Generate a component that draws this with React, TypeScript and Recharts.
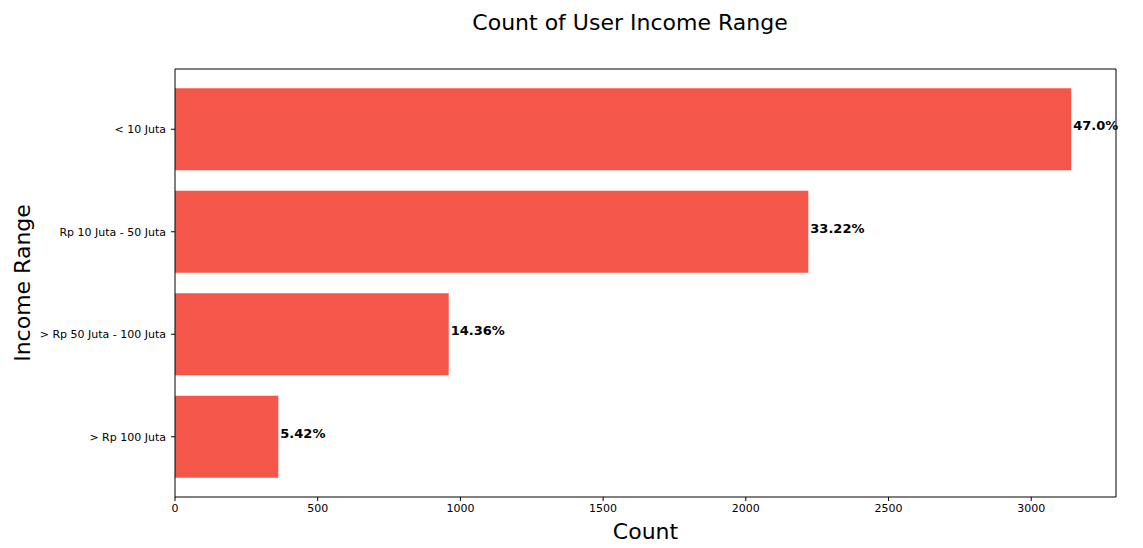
import { BarChart, Bar, XAxis, YAxis, LabelList } from "recharts"

const categories = ["< 10 Juta", "Rp 10 Juta - 50 Juta", "> Rp 50 Juta - 100 Juta", "> Rp 100 Juta"]
const counts = [3140, 2219, 959, 362]
const pctLabels = ["47.0%", "33.22%", "14.36%", "5.42%"]
const xTicks = [0, 500, 1000, 1500, 2000, 2500, 3000]

const data = categories.map((name, i) => ({ name, count: counts[i], pct: pctLabels[i] }))

const FONT = "'DejaVu Sans', sans-serif"
const X_MAX = 3297

function PctLabel(props: any) {
  const { x, y, width, height, value } = props
  return (
    <text
      x={x + width + 2}
      y={y + height / 2 - 3.5}
      dominantBaseline="central"
      fontSize={13}
      fontWeight="bold"
      fontFamily={FONT}
      fill="#000"
    >
      {value}
    </text>
  )
}

export default function App() {
  return (
    <div style={{ position: "absolute", left: 0, top: 0, width: 1143, height: 548, background: "#fff", fontFamily: FONT }}>
      <div
        style={{
          position: "absolute",
          left: 0,
          width: 1260,
          top: 10,
          textAlign: "center",
          fontSize: 22,
          color: "#000",
        }}
      >
        Count of User Income Range
      </div>
      <BarChart
        width={1143}
        height={548}
        data={data}
        layout="vertical"
        margin={{ top: 68, right: 26, bottom: 0, left: 0 }}
        barCategoryGap="10%"
      >
        <XAxis
          type="number"
          dataKey="count"
          domain={[0, X_MAX]}
          ticks={xTicks}
          allowDataOverflow
          height={51}
          tickSize={4}
          tickMargin={3}
          stroke="#000"
          tick={{ fill: "#000", fontSize: 11, fontFamily: FONT }}
          label={(p: any) => {
            const vb = p.viewBox
            return (
              <text
                x={vb.x + vb.width / 2}
                y={vb.y + 34}
                textAnchor="middle"
                dominantBaseline="central"
                fontSize={22}
                fontFamily={FONT}
                fill="#000"
              >
                Count
              </text>
            )
          }}
        />
        <XAxis
          xAxisId="top"
          orientation="top"
          type="number"
          domain={[0, X_MAX]}
          height={1}
          tick={false}
          tickLine={false}
          stroke="#000"
        />
        <YAxis
          type="category"
          dataKey="name"
          width={175}
          padding={{ top: 9, bottom: 9 }}
          tickSize={4}
          tickMargin={5}
          stroke="#000"
          tick={{ fill: "#000", fontSize: 11, fontFamily: FONT }}
          label={(p: any) => {
            const vb = p.viewBox
            const cy = vb.y + vb.height / 2
            return (
              <text
                x={22}
                y={cy}
                transform={`rotate(-90, 22, ${cy})`}
                textAnchor="middle"
                dominantBaseline="central"
                fontSize={22}
                fontFamily={FONT}
                fill="#000"
              >
                Income Range
              </text>
            )
          }}
        />
        <YAxis
          yAxisId="right"
          orientation="right"
          type="category"
          dataKey="name"
          width={1}
          tick={false}
          tickLine={false}
          stroke="#000"
        />
        <Bar dataKey="count" fill="#f5564a" isAnimationActive={false}>
          <LabelList dataKey="pct" content={PctLabel} />
        </Bar>
      </BarChart>
    </div>
  )
}
